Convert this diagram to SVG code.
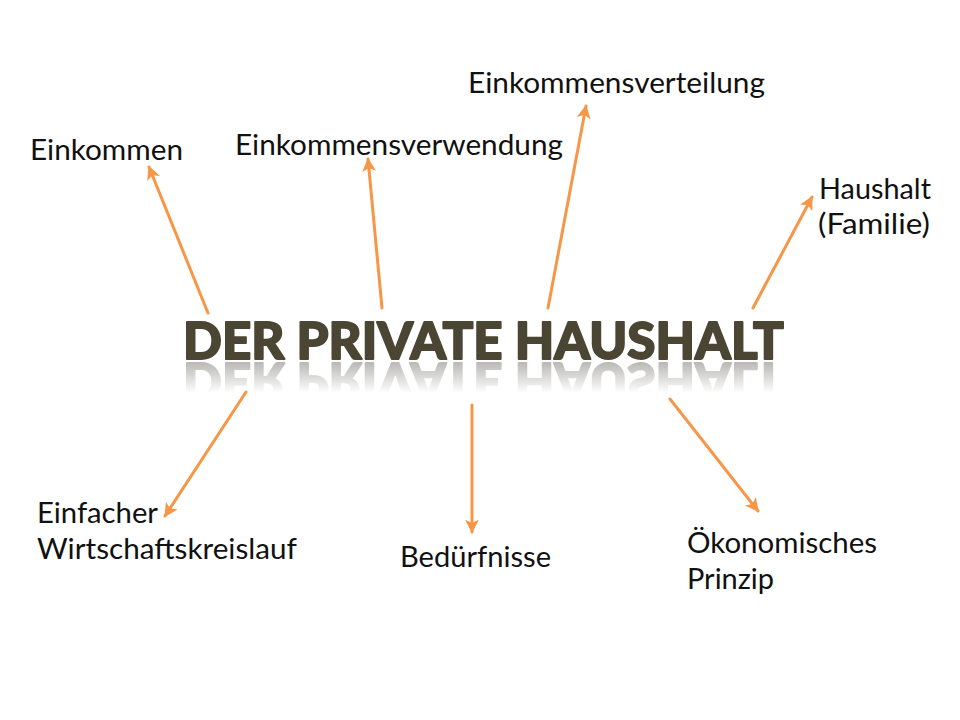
<svg xmlns="http://www.w3.org/2000/svg" xmlns:xlink="http://www.w3.org/1999/xlink" width="960" height="720" viewBox="0 0 960 720">
  <defs>
    <marker id="ah" viewBox="0 0 10 10" refX="9" refY="5" markerWidth="4.6" markerHeight="4.6" orient="auto" markerUnits="strokeWidth">
      <path d="M0,0 L10,5 L0,10 L2.5,5 Z" fill="#F79646"/>
    </marker>
    <linearGradient id="fade" x1="0" y1="361" x2="0" y2="393" gradientUnits="userSpaceOnUse">
      <stop offset="0" stop-color="#fff" stop-opacity="0.5"/>
      <stop offset="1" stop-color="#fff" stop-opacity="0"/>
    </linearGradient>
    <mask id="reflMask" maskUnits="userSpaceOnUse" x="150" y="355" width="680" height="50">
      <rect x="150" y="362" width="680" height="43" fill="url(#fade)"/>
    </mask>
    <filter id="soft" x="-5%" y="-20%" width="110%" height="140%">
      <feGaussianBlur stdDeviation="0.5"/>
    </filter>
  </defs>
  <style>
    .lbl { font-family: Lato, "Open Sans", "Liberation Sans", sans-serif; font-size: 28px; fill: #111; }
    .title { font-family: Lato, "DejaVu Sans", "Liberation Sans", sans-serif; font-weight: 900; font-size: 52px; stroke-width: 1.8; stroke-linejoin: round; }
    .conn { stroke: #F79646; stroke-width: 3; fill: none; stroke-linecap: round; marker-end: url(#ah); }
  </style>
  <rect width="960" height="720" fill="#fff"/>

  <g id="connectors">
    <line class="conn" x1="208" y1="313" x2="149" y2="167"/>
    <line class="conn" x1="382" y1="308" x2="368" y2="159"/>
    <line class="conn" x1="548" y1="308" x2="586" y2="106"/>
    <line class="conn" x1="753" y1="308" x2="812" y2="197"/>
    <line class="conn" x1="246" y1="392" x2="165" y2="516"/>
    <line class="conn" x1="472" y1="405" x2="472" y2="532"/>
    <line class="conn" x1="670" y1="399" x2="758" y2="511"/>
  </g>

  <g id="center">
    <g fill="#4b4533" stroke="#4b4533">
      <text id="titleText" class="title" x="183" y="359" textLength="601" lengthAdjust="spacingAndGlyphs">DER PRIVATE HAUSHALT</text>
    </g>
    <g mask="url(#reflMask)">
      <use xlink:href="#titleText" href="#titleText" fill="#6e6c66" stroke="#6e6c66" transform="translate(0,722) scale(1,-1)" filter="url(#soft)"/>
    </g>
  </g>

  <g id="n-einkommen">
    <text class="lbl" x="30" y="160" textLength="153" lengthAdjust="spacingAndGlyphs">Einkommen</text>
  </g>
  <g id="n-verwendung">
    <text class="lbl" x="235" y="155" textLength="328" lengthAdjust="spacingAndGlyphs">Einkommensverwendung</text>
  </g>
  <g id="n-verteilung">
    <text class="lbl" x="468" y="93" textLength="297" lengthAdjust="spacingAndGlyphs">Einkommensverteilung</text>
  </g>
  <g id="n-haushalt">
    <text class="lbl" x="819" y="199" textLength="112" lengthAdjust="spacingAndGlyphs">Haushalt</text>
    <text class="lbl" x="818" y="234" textLength="112" lengthAdjust="spacingAndGlyphs">(Familie)</text>
  </g>
  <g id="n-kreislauf">
    <text class="lbl" x="37" y="523" textLength="121" lengthAdjust="spacingAndGlyphs">Einfacher</text>
    <text class="lbl" x="37" y="559" textLength="260" lengthAdjust="spacingAndGlyphs">Wirtschaftskreislauf</text>
  </g>
  <g id="n-beduerfnisse">
    <text class="lbl" x="400" y="567" textLength="151" lengthAdjust="spacingAndGlyphs">Bedürfnisse</text>
  </g>
  <g id="n-prinzip">
    <text class="lbl" x="687" y="553" textLength="190" lengthAdjust="spacingAndGlyphs">Ökonomisches</text>
    <text class="lbl" x="687" y="589" textLength="87" lengthAdjust="spacingAndGlyphs">Prinzip</text>
  </g>
</svg>
